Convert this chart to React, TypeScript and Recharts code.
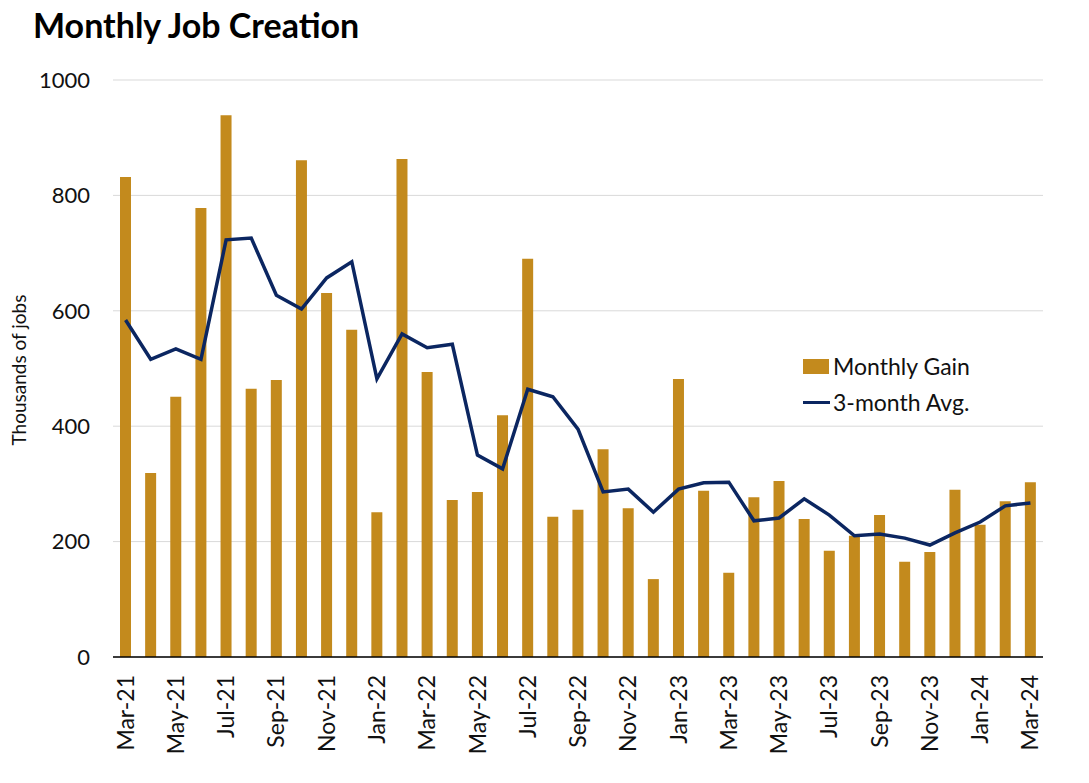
import React from 'react';
import {
  ComposedChart,
  Bar,
  Line,
  XAxis,
  YAxis,
  CartesianGrid,
} from 'recharts';

const months = [
  'Mar-21', 'Apr-21', 'May-21', 'Jun-21', 'Jul-21', 'Aug-21', 'Sep-21', 'Oct-21', 'Nov-21', 'Dec-21',
  'Jan-22', 'Feb-22', 'Mar-22', 'Apr-22', 'May-22', 'Jun-22', 'Jul-22', 'Aug-22', 'Sep-22', 'Oct-22',
  'Nov-22', 'Dec-22', 'Jan-23', 'Feb-23', 'Mar-23', 'Apr-23', 'May-23', 'Jun-23', 'Jul-23', 'Aug-23',
  'Sep-23', 'Oct-23', 'Nov-23', 'Dec-23', 'Jan-24', 'Feb-24', 'Mar-24',
];

const monthlyGain = [
  832, 319, 451, 778, 939, 465, 480, 861, 631, 567,
  251, 863, 494, 272, 286, 419, 690, 243, 255, 360,
  258, 135, 482, 288, 146, 277, 305, 239, 184, 210,
  246, 165, 182, 290, 229, 270, 303,
];

const threeMonthAvg = [
  584, 516, 534, 516, 723, 726, 627, 603, 657, 685,
  482, 560, 536, 542, 350, 326, 464, 451, 395, 286,
  291, 251, 291, 302, 303, 236, 241, 274, 246, 210,
  213, 206, 194, 215, 234, 262, 267,
];

const yTicks = [0, 200, 400, 600, 800, 1000];

const BAR_COLOR = '#C38A1D';
const LINE_COLOR = '#0B2661';
const FONT = 'Lato, "Open Sans", sans-serif';

const data = months.map((m, i) => ({
  month: m,
  gain: monthlyGain[i],
  avg: threeMonthAvg[i],
}));

const XTick = (props: any) => {
  const { x, y, payload } = props;
  return (
    <g transform={`translate(${x},${y})`}>
      <text
        transform="rotate(-90)"
        textAnchor="end"
        dy="0.35em"
        fontSize={23}
        fontFamily={FONT}
        fill="#111"
      >
        {payload.value}
      </text>
    </g>
  );
};

export default function App() {
  return (
    <div style={{ position: 'absolute', left: 0, top: 0, width: 1089, height: 783, background: '#fff' }}>
      <div
        style={{
          position: 'absolute',
          left: 33,
          top: 4,
          fontFamily: FONT,
          fontWeight: 700,
          fontSize: 34,
          color: '#000',
        }}
      >
        Monthly Job Creation
      </div>
      <div
        style={{
          position: 'absolute',
          left: 18,
          top: 370,
          transform: 'translate(-50%, -50%) rotate(-90deg)',
          fontFamily: FONT,
          fontSize: 19,
          color: '#111',
          whiteSpace: 'nowrap',
        }}
      >
        Thousands of jobs
      </div>
      <ComposedChart
        width={1089}
        height={783}
        data={data}
        margin={{ top: 80, right: 46, left: 0, bottom: 0 }}
        barCategoryGap={0}
      >
        <CartesianGrid vertical={false} stroke="#d9d9d9" />
        <XAxis
          dataKey="month"
          interval={1}
          height={126}
          tick={<XTick />}
          tickLine={false}
          tickSize={0}
          tickMargin={18}
          axisLine={{ stroke: '#000', strokeWidth: 1.5 }}
        />
        <YAxis
          width={113}
          domain={[0, 1000]}
          ticks={yTicks}
          axisLine={false}
          tickLine={false}
          tickSize={0}
          tickMargin={23}
          tick={{ fontSize: 22, fontFamily: FONT, fill: '#111' }}
        />
        <Bar dataKey="gain" name="Monthly Gain" fill={BAR_COLOR} barSize={11} isAnimationActive={false} />
        <Line
          dataKey="avg"
          name="3-month Avg."
          stroke={LINE_COLOR}
          strokeWidth={3.5}
          dot={false}
          type="linear"
          isAnimationActive={false}
        />
      </ComposedChart>
      <div
        style={{
          position: 'absolute',
          left: 803,
          top: 348,
          fontFamily: FONT,
          fontSize: 23,
          color: '#111',
          lineHeight: '36px',
        }}
      >
        <div style={{ display: 'flex', alignItems: 'center' }}>
          <span style={{ width: 26, height: 15, background: BAR_COLOR, display: 'inline-block', marginRight: 4 }} />
          Monthly Gain
        </div>
        <div style={{ display: 'flex', alignItems: 'center' }}>
          <span style={{ width: 27, height: 3, background: LINE_COLOR, display: 'inline-block', marginRight: 3 }} />
          3-month Avg.
        </div>
      </div>
    </div>
  );
}
